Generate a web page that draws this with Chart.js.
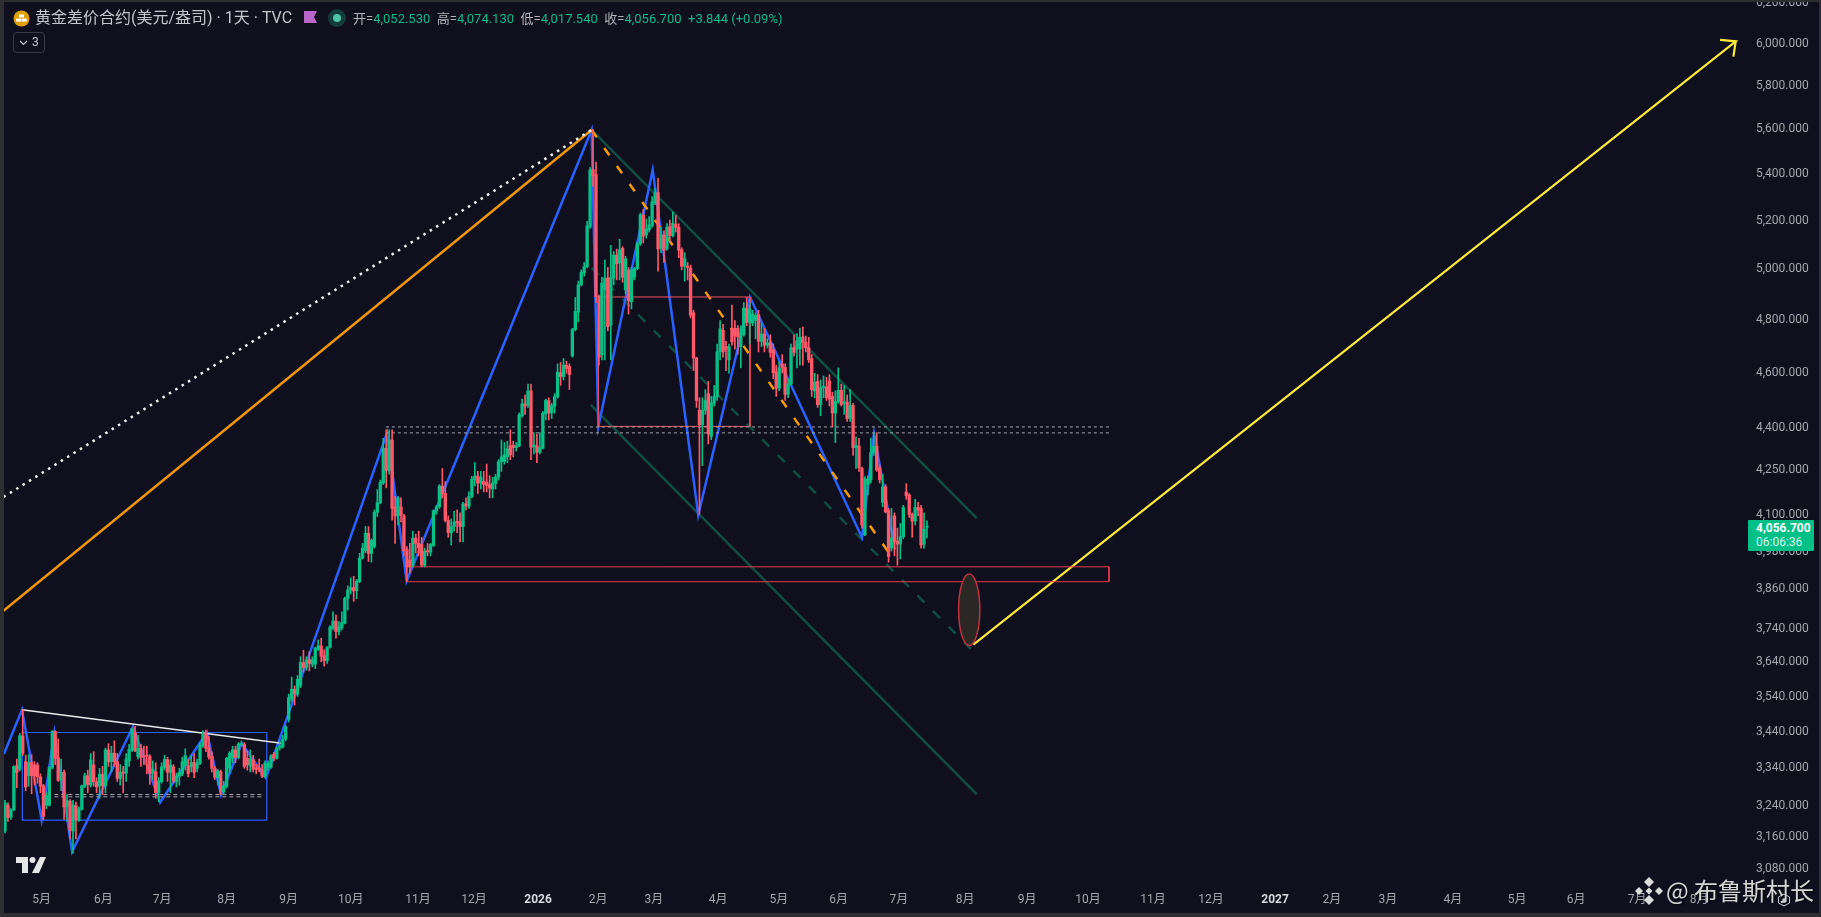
<!DOCTYPE html>
<html lang="zh-CN">
<head>
<meta charset="UTF-8">
<title>黄金差价合约(美元/盎司)</title>
<script src="https://cdnjs.cloudflare.com/ajax/libs/Chart.js/4.4.1/chart.umd.min.js"></script>
<style>
    html, body { margin: 0; padding: 0; background: #2e2e30; overflow: hidden; }
    body { width: 1821px; height: 917px; position: relative; font-family: Roboto, 'Noto Sans CJK SC', sans-serif; }
    #pane { position: absolute; left: 4px; top: 2px; width: 1815px; height: 911px; background: #0f0f1e; }
    #chart { position: absolute; left: 4px; top: 0; }
    #topStrip { position: absolute; left: 0; top: 0; width: 1821px; height: 2px; background: #2e2e30; }
    .abs { position: absolute; white-space: nowrap; }
    #title { left: 35px; top: 8px; line-height: 20px; font-size: 16px; color: #c4c4cc; font-family: Roboto, 'Noto Sans CJK SC', sans-serif; }
    #ohlc { left: 353px; top: 9px; line-height: 18px; font-size: 13px; color: #b4b4bc; }
    #ohlc b { font-weight: 400; color: #0fb98a; }
    #ohlc i { font-style: normal; font-family: 'Noto Sans CJK SC', sans-serif; }
    #badge { left: 13px; top: 32px; width: 30px; height: 19px; border: 1px solid #3a3a46; border-radius: 4px; color: #c8c8d0; font-size: 12px; line-height: 19px; }
    #priceBox { left: 1748px; top: 520px; width: 66px; height: 31px; background: #00c087; border-radius: 1px; font-size: 12px; line-height: 14px; color: #fff; }
    #priceBox div { padding-left: 8px; }
    #watermark { left: 1666px; top: 872px; font-size: 24px; line-height: 36px; color: rgba(235,235,235,0.9); text-shadow: 1px 1px 2px rgba(0,0,0,0.8); font-family: 'Noto Sans CJK SC', sans-serif; }
</style>
</head>
<body>
<div id="pane"></div>
<canvas id="chart" width="1815" height="913"></canvas>
<div id="topStrip"></div>

<svg class="abs" style="left:13px;top:10px" width="17" height="17" viewBox="0 0 17 17">
    <circle cx="8.5" cy="8.5" r="8" fill="#e0a106"/>
    <rect x="6" y="4.5" width="5" height="3" fill="#fff"/><rect x="3.2" y="8.6" width="5" height="3" fill="#fff"/><rect x="8.8" y="8.6" width="5" height="3" fill="#fff"/>
</svg>
<div class="abs" id="title">黄金差价合约(美元/盎司) · 1天 · TVC</div>
<svg class="abs" style="left:304px;top:11px" width="13" height="12" viewBox="0 0 13 12"><path d="M0 0H13L10 6L13 12H0Z" fill="#ba68c8"/></svg>
<svg class="abs" style="left:328px;top:9px" width="18" height="18" viewBox="0 0 18 18"><circle cx="9" cy="9" r="9" fill="#143c3c"/><circle cx="9" cy="9" r="4" fill="#4fc3a8"/></svg>
<div class="abs" id="ohlc"><i>开</i>=<b>4,052.530</b> &nbsp;<i>高</i>=<b>4,074.130</b> &nbsp;<i>低</i>=<b>4,017.540</b> &nbsp;<i>收</i>=<b>4,056.700</b> &nbsp;<b>+3.844 (+0.09%)</b></div>
<div class="abs" id="badge"><svg style="position:absolute;left:5px;top:7px" width="9" height="6" viewBox="0 0 9 6"><path d="M1 1L4.5 4.5L8 1" fill="none" stroke="#c8c8d0" stroke-width="1.2"/></svg><span style="position:absolute;left:18px">3</span></div>

<svg class="abs" style="left:16px;top:857px" width="30" height="16" viewBox="0 0 30 16">
    <path d="M0 0H12V16H6V6H0Z" fill="#e6e6e6"/><circle cx="16.5" cy="3" r="3" fill="#e6e6e6"/><path d="M24 0H30L23 16H16Z" fill="#e6e6e6"/>
</svg>

<div class="abs" id="priceBox"><div style="font-weight:700;margin-top:1px">4,056.700</div><div style="color:#d6f5ea">06:06:36</div></div>

<svg class="abs" style="left:1635px;top:877px" width="28" height="28" viewBox="0 0 28 28" fill="#dcdcdc">
    <path d="M14 0L19 5L14 10L9 5Z"/><path d="M14 18L19 23L14 28L9 23Z"/><path d="M4 10L8 14L4 18L0 14Z"/><path d="M24 10L28 14L24 18L20 14Z"/><path d="M14 10.500L17.500 14L14 17.500L10.500 14Z"/>
</svg>
<div class="abs" id="watermark">@ 布鲁斯村长</div>
<svg class="abs" style="left:1777px;top:893px" width="14" height="14" viewBox="0 0 14 14"><path d="M7 1L12.500 4V10L7 13L1.500 10V4Z" fill="none" stroke="#c8c8d0"/><circle cx="7" cy="7" r="1.800" fill="#c8c8d0"/></svg>

<script>
// daily bars, one entry per session
const opens = [
    3170,3237,3205,3225,3342,3333,3423,3353,3315,3351,3344,3344,3312,3288,3237,3237,3337,3436,3364,3303,
    3324,3232,3248,3170,3236,3198,3226,3288,3315,3290,3344,3299,3288,3319,3288,3385,3353,3376,3353,3308,
    3325,3322,3355,3385,3434,3367,3389,3368,3370,3367,3321,3326,3270,3299,3337,3358,3324,3339,3299,3313,
    3320,3342,3342,3339,3351,3335,3349,3397,3432,3391,3368,3335,3310,3326,3272,3287,3335,3362,3385,3364,
    3399,3400,3362,3341,3358,3335,3336,3332,3313,3338,3338,3373,3362,3391,3394,3415,3470,3527,3555,3541,
    3566,3633,3618,3641,3628,3628,3672,3682,3653,3638,3678,3735,3757,3725,3737,3750,3826,3852,3860,3850,
    3878,3953,3977,4033,3968,3990,4102,4134,4200,4320,4243,4349,4120,4090,4120,4090,3980,3947,3930,4017,
    4000,3997,3930,3977,3972,3993,4106,4120,4190,4165,4075,4035,4055,4072,4072,4055,4130,4122,4155,4211,
    4224,4200,4205,4203,4195,4180,4198,4220,4273,4275,4290,4329,4330,4322,4328,4435,4478,4473,4525,4325,
    4328,4306,4320,4442,4490,4445,4470,4503,4592,4578,4620,4615,4655,4755,4822,4930,4978,5003,5167,5412,
    5390,4885,4659,4910,4957,4772,4957,5050,5018,5078,4910,4990,4863,4960,4995,5097,5217,5133,5155,5172,
    5268,5312,5078,5133,5075,5168,5130,5178,5165,5072,5005,5005,4998,4820,4647,4455,4403,4455,4515,4362,
    4480,4503,4670,4752,4690,4640,4760,4760,4760,4690,4735,4838,4783,4780,4790,4812,4710,4738,4695,4705,
    4678,4595,4535,4625,4612,4512,4550,4687,4680,4682,4727,4707,4685,4645,4525,4560,4475,4537,4540,4562,
    4505,4445,4487,4527,4480,4484,4425,4472,4322,4327,4250,4028,4195,4212,4305,4327,4252,4135,4187,4110,
    3985,4090,4008,3998,4022,4170,4160,4095,4073,4118,4115,3998,4052.53
];
const highs = [
    3250,3243,3228,3342,3360,3430,3497,3371,3372,3372,3353,3350,3320,3292,3270,3340,3438,3438,3415,3360,
    3330,3265,3252,3250,3245,3232,3290,3322,3330,3375,3380,3310,3335,3340,3390,3402,3395,3410,3375,3345,
    3340,3375,3400,3445,3450,3425,3400,3395,3395,3372,3355,3350,3310,3350,3370,3365,3358,3345,3322,3335,
    3365,3388,3360,3370,3375,3360,3405,3438,3440,3422,3380,3340,3332,3330,3300,3365,3380,3395,3395,3405,
    3410,3405,3382,3385,3370,3345,3360,3345,3355,3355,3372,3378,3392,3410,3425,3452,3541,3590,3565,3595,
    3650,3669,3650,3665,3650,3678,3700,3705,3670,3680,3742,3785,3775,3755,3785,3830,3865,3890,3895,3885,
    3968,4000,4055,4055,4015,4110,4178,4210,4355,4385,4385,4385,4155,4155,4150,4095,3990,4000,4040,4030,
    4040,4020,3985,4000,4000,4110,4125,4195,4250,4205,4090,4080,4105,4110,4100,4135,4150,4170,4222,4270,
    4240,4240,4240,4265,4225,4220,4230,4280,4349,4340,4345,4385,4345,4340,4445,4495,4510,4550,4550,4375,
    4370,4375,4450,4495,4500,4480,4515,4625,4630,4645,4635,4625,4760,4880,4945,4990,5020,5190,5420,5590,
    5445,4890,4960,5030,5000,5090,5065,5075,5115,5085,5045,5000,5000,5000,5105,5225,5240,5200,5210,5295,
    5330,5374,5165,5150,5180,5195,5230,5215,5180,5080,5060,5020,5010,4830,4650,4500,4500,4530,4560,4505,
    4545,4700,4790,4775,4710,4700,4850,4790,4770,4770,4860,4880,4860,4830,4820,4830,4780,4760,4720,4735,
    4700,4620,4635,4660,4625,4570,4700,4735,4740,4760,4765,4730,4725,4660,4590,4585,4565,4580,4575,4585,
    4520,4525,4610,4550,4545,4510,4530,4480,4360,4355,4255,4222,4225,4355,4375,4375,4262,4230,4195,4115,
    4115,4100,4050,4065,4125,4198,4165,4100,4145,4135,4125,4100,4074.13
];
const lows = [
    3165,3195,3200,3222,3283,3328,3370,3275,3287,3267,3290,3295,3270,3199,3228,3235,3333,3345,3300,3275,
    3200,3195,3150,3114,3150,3195,3224,3283,3270,3285,3287,3270,3255,3265,3270,3340,3325,3340,3300,3290,
    3270,3300,3340,3380,3380,3360,3340,3345,3320,3292,3305,3255,3246,3295,3330,3300,3270,3295,3285,3290,
    3315,3330,3312,3325,3310,3325,3345,3392,3380,3360,3325,3305,3290,3265,3265,3282,3322,3350,3350,3360,
    3395,3335,3330,3325,3325,3320,3325,3310,3310,3330,3335,3355,3360,3385,3390,3410,3462,3520,3510,3535,
    3560,3605,3610,3608,3620,3615,3668,3635,3622,3630,3675,3730,3705,3715,3730,3748,3790,3840,3817,3825,
    3875,3950,3970,3942,3940,3985,4088,4130,4195,4184,4230,4076,4000,4060,4070,3960,3880,3905,3925,3970,
    3960,3925,3925,3960,3960,3990,4095,4115,4150,4070,4020,3995,4040,4035,4005,4005,4110,4115,4150,4190,
    4165,4180,4170,4170,4150,4150,4180,4210,4240,4265,4270,4280,4290,4310,4325,4430,4440,4465,4280,4300,
    4270,4300,4318,4420,4420,4425,4445,4498,4545,4565,4590,4530,4650,4750,4785,4925,4965,4998,5160,5340,
    4860,4620,4640,4640,4750,4640,4930,4950,4950,4940,4895,4815,4835,4950,4990,5090,5100,5120,5145,5165,
    5260,4985,5060,5020,5070,5100,5125,5145,5040,4990,4945,4950,4800,4600,4465,4095,4260,4440,4335,4350,
    4470,4490,4640,4650,4600,4590,4695,4680,4660,4610,4730,4770,4700,4770,4720,4670,4690,4670,4685,4650,
    4570,4505,4525,4590,4490,4500,4545,4655,4610,4620,4620,4670,4630,4505,4500,4465,4435,4500,4490,4470,
    4395,4340,4480,4470,4440,4415,4415,4295,4250,4240,4050,4025,4160,4200,4295,4240,4200,4120,4100,3940,
    3975,3960,3930,3950,4015,4145,4085,4020,4060,4090,3985,3985,4017.54
];
const closes = [
    3243,3205,3225,3340,3324,3424,3376,3285,3351,3315,3315,3312,3287,3208,3262,3337,3436,3362,3303,3324,
    3232,3249,3172,3237,3199,3228,3288,3315,3292,3358,3299,3285,3319,3288,3385,3352,3376,3353,3308,3324,
    3322,3360,3387,3443,3382,3389,3364,3366,3368,3322,3333,3270,3301,3339,3359,3324,3344,3301,3314,3324,
    3353,3369,3321,3351,3324,3349,3398,3430,3389,3365,3335,3311,3328,3272,3288,3362,3376,3385,3364,3401,
    3401,3340,3345,3360,3332,3333,3331,3314,3349,3349,3369,3362,3389,3396,3415,3448,3531,3555,3541,3584,
    3633,3618,3640,3630,3641,3675,3682,3651,3638,3677,3739,3757,3725,3739,3752,3826,3852,3860,3849,3880,
    3953,3985,4033,3968,4010,4102,4134,4202,4320,4243,4349,4115,4090,4150,4092,3976,3925,3925,4017,4000,
    3985,3930,3975,3973,3997,4107,4120,4190,4165,4075,4035,4055,4070,4067,4055,4130,4123,4155,4213,4224,
    4200,4220,4195,4192,4183,4200,4220,4273,4290,4297,4318,4297,4322,4328,4438,4478,4470,4525,4323,4332,
    4306,4322,4444,4490,4445,4472,4504,4594,4578,4620,4608,4585,4755,4825,4930,4980,5003,5170,5410,5385,
    4883,4650,4937,4957,4766,4960,5050,5015,5072,4960,5035,4867,4990,4995,5098,5217,5129,5158,5175,5272,
    5312,5075,5133,5070,5165,5130,5182,5165,5070,5005,5035,5000,4810,4647,4490,4403,4455,4490,4370,4482,
    4505,4670,4758,4670,4680,4690,4708,4730,4727,4745,4838,4783,4835,4815,4810,4710,4738,4695,4705,4668,
    4592,4535,4610,4612,4512,4550,4685,4668,4712,4725,4706,4685,4640,4530,4557,4475,4537,4540,4500,4495,
    4445,4487,4527,4475,4485,4425,4472,4322,4330,4252,4060,4212,4215,4305,4327,4245,4212,4187,4103,3958,
    4018,4005,3998,4022,4118,4157,4095,4073,4118,4110,3995,4047,4056.7
];

// axis ticks
const yTicks = [6200,6000,5800,5600,5400,5200,5000,4800,4600,4400,4250,4100,3980,3860,3740,3640,3540,3440,3340,3240,3160,3080];
const xTickPos = [12.4,33.3,53.2,75,96,117,139.8,158.7,180.4,200.7,219.6,241.3,261.9,282.1,302.5,324.9,345.9,366.5,388.5,408.1,429.8,449,468,490,511.7,531.7,552.3,573.3];
const xTickLabels = ['5月','6月','7月','8月','9月','10月','11月','12月','2026','2月','3月','4月','5月','6月','7月','8月','9月','10月','11月','12月','2027','2月','3月','4月','5月','6月','7月','8月'];

// hand drawn tools, x = bar number, y = price
const zigzagX = [-0.34,5.75,12.4,16.7,22.7,43.3,52.5,68.3,73.1,80.1,88.3,129.3,135.9,198.5,200.8,219.2,234.6,252.1,290,294.1,301.2];
const zigzagY = [3374,3497,3199,3433,3117,3449,3244,3433,3264,3403,3309,4374,3880,5588,4397,5410,4093,4882,4019,4372,3980];
const trendWhiteX = [5.75,93.6], trendWhiteY = [3497,3403];
const boxBlueX = [5.85,88.6,88.6,5.85,5.85], boxBlueY = [3433,3433,3198,3198,3433];
const boxDotsX = [16.7,87.6], boxDotsTop = [3265,3265], boxDotsLow = [3259,3259];
const orangeX = [-0.5,198.5], orangeY = [3788,5588];
const dottedX = [-0.5,198.5], dottedY = [4153,5588];
const goldDashX = [198.5,301.2], goldDashY = [5588,3942];
const chanTopX = [198.5,328.8], chanTopY = [5588,4083];
const chanMidX = [198.5,326.8], chanMidY = [4998,3673];
const chanLowX = [198.2,328.8], chanLowY = [4474,3266];
const rectAX = [200.8,252.1,252.1,200.8,200.8], rectAY = [4882,4882,4397,4397,4882];
const rectBX = [135.9,373.6,373.6,135.9,135.9], rectBY = [3925,3925,3878,3878,3925];
const levelX = [128.9,373.9], levelTop = [4395,4395], levelLow = [4374,4374];
const yellowX = [327.7,585.7,580.4,585.7,584.9], yellowY = [3686,6003,6010,6003,5929];
const ovalX = 326.3, ovalHalfW = 3.6, ovalTop = 3902, ovalLow = 3683;

const UP = '#08bf87', DOWN = '#ff586a', BLUE = '#2962ff', TEAL = '#114d42';

function pts(xs, ys) { return xs.map((x, i) => ({ x: x, y: ys[i] })); }
function tool(xs, ys, color, width, dash) {
    return { type: 'line', data: pts(xs, ys), borderColor: color, borderWidth: width, borderDash: dash || [],
             pointRadius: 0, tension: 0, fill: false, order: 5 };
}

const barColors = closes.map((c, i) => c >= opens[i] ? UP : DOWN);
const bodies = closes.map((c, i) => ({ x: i, y: [opens[i], c] }));
const wicks = closes.map((c, i) => ({ x: i, y: [lows[i], highs[i]] }));

// ellipse has no chart type of its own
const ovalPlugin = {
    id: 'oval',
    afterDatasetsDraw(chart) {
        const sx = chart.scales.x, sy = chart.scales.y, ctx = chart.ctx;
        const top = sy.getPixelForValue(ovalTop), low = sy.getPixelForValue(ovalLow);
        const cx = sx.getPixelForValue(ovalX);
        const rx = sx.getPixelForValue(ovalX + ovalHalfW) - cx;
        ctx.save();
        ctx.beginPath();
        ctx.ellipse(cx, (top + low) / 2, rx, (low - top) / 2, 0, 0, Math.PI * 2);
        ctx.fillStyle = '#2a2725';
        ctx.fill();
        ctx.lineWidth = 1.5;
        ctx.strokeStyle = '#bd3340';
        ctx.stroke();
        ctx.restore();
    }
};

new Chart(document.getElementById('chart'), {
    type: 'bar',
    data: {
        datasets: [
            { data: bodies, backgroundColor: barColors, barThickness: 2.7, minBarLength: 1, grouped: false, order: 1 },
            { data: wicks, backgroundColor: barColors, barThickness: 1, grouped: false, order: 2 },
            tool(dottedX, dottedY, '#f2f2f2', 2.5, [2.5, 5]),
            tool(orangeX, orangeY, '#ef960c', 2.5),
            tool(trendWhiteX, trendWhiteY, '#e8e8e8', 1.5),
            tool(boxDotsX, boxDotsTop, '#a8a8b0', 1, [4, 3]),
            tool(boxDotsX, boxDotsLow, '#a8a8b0', 1, [4, 3]),
            tool(levelX, levelTop, '#a8a8b0', 1, [3, 3]),
            tool(levelX, levelLow, '#a8a8b0', 1, [3, 3]),
            tool(rectAX, rectAY, '#f7525f', 1),
            tool(rectBX, rectBY, '#ea3c4c', 1),
            tool(goldDashX, goldDashY, '#f59a0a', 2.5, [9, 13]),
            tool(boxBlueX, boxBlueY, BLUE, 1.2),
            tool(zigzagX, zigzagY, BLUE, 2.5),
            tool(chanTopX, chanTopY, TEAL, 2.5),
            tool(chanMidX, chanMidY, TEAL, 2.5, [10, 12]),
            tool(chanLowX, chanLowY, TEAL, 2.5),
            tool(yellowX, yellowY, '#ffeb3b', 2.2)
        ]
    },
    options: {
        responsive: false,
        animation: false,
        events: [],
        layout: { padding: 0 },
        plugins: { legend: { display: false }, tooltip: { enabled: false } },
        scales: {
            x: {
                type: 'linear',
                offset: false,
                min: -0.34,
                max: 589.85,
                grid: { display: false, drawTicks: false },
                border: { display: false },
                afterBuildTicks(s) { s.ticks = xTickPos.map(v => ({ value: v })); },
                afterFit(s) { s.height = 33; s.paddingLeft = 0; s.paddingRight = 0; },
                ticks: {
                    autoSkip: false,
                    maxRotation: 0,
                    minRotation: 0,
                    padding: 13,
                    callback: (v, i) => xTickLabels[i],
                    color: ctx => /^20/.test(xTickLabels[ctx.index]) ? '#d8d8e0' : '#a6a6ae',
                    font: ctx => ({ family: "Roboto, 'Noto Sans CJK SC', sans-serif", size: 12,
                                    weight: /^20/.test(xTickLabels[ctx.index]) ? '700' : '400' })
                }
            },
            y: {
                type: 'logarithmic',
                position: 'right',
                min: 3047,
                max: 6207,
                grid: { display: false, drawTicks: false },
                border: { display: false },
                afterBuildTicks(s) { s.ticks = yTicks.map(v => ({ value: v })); },
                afterFit(s) { s.width = 71; s.paddingTop = 0; s.paddingBottom = 0; },
                ticks: {
                    autoSkip: false,
                    padding: 8,
                    labelOffset: 2,
                    color: '#a6a6ae',
                    font: { family: 'Roboto, sans-serif', size: 12 },
                    callback: v => v.toLocaleString('en-US', { minimumFractionDigits: 3 })
                }
            }
        }
    },
    plugins: [ovalPlugin]
});
</script>
</body>
</html>
